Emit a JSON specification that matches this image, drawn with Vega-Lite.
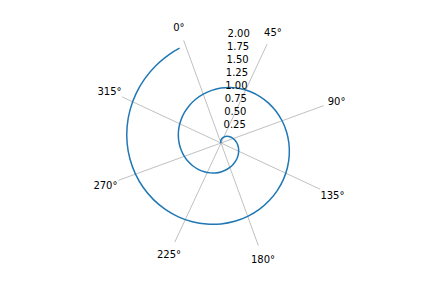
{
  "$schema": "https://vega.github.io/schema/vega-lite/v6.json",
  "width": 432,
  "height": 288,
  "padding": 0,
  "autosize": {"type": "none"},
  "background": "white",
  "config": {"view": {"stroke": null}, "text": {"font": "DejaVu Sans", "fontSize": 10, "color": "#000000"}},
  "datasets": {
    "spiral": [
      {"theta": 0, "r": 0}, {"theta": 10, "r": 0.0278}, {"theta": 20, "r": 0.0556}, {"theta": 30, "r": 0.0833},
      {"theta": 40, "r": 0.1111}, {"theta": 50, "r": 0.1389}, {"theta": 60, "r": 0.1667}, {"theta": 70, "r": 0.1944},
      {"theta": 80, "r": 0.2222}, {"theta": 90, "r": 0.25}, {"theta": 100, "r": 0.2778}, {"theta": 110, "r": 0.3056},
      {"theta": 120, "r": 0.3333}, {"theta": 130, "r": 0.3611}, {"theta": 140, "r": 0.3889}, {"theta": 150, "r": 0.4167},
      {"theta": 160, "r": 0.4444}, {"theta": 170, "r": 0.4722}, {"theta": 180, "r": 0.5}, {"theta": 190, "r": 0.5278},
      {"theta": 200, "r": 0.5556}, {"theta": 210, "r": 0.5833}, {"theta": 220, "r": 0.6111}, {"theta": 230, "r": 0.6389},
      {"theta": 240, "r": 0.6667}, {"theta": 250, "r": 0.6944}, {"theta": 260, "r": 0.7222}, {"theta": 270, "r": 0.75},
      {"theta": 280, "r": 0.7778}, {"theta": 290, "r": 0.8056}, {"theta": 300, "r": 0.8333}, {"theta": 310, "r": 0.8611},
      {"theta": 320, "r": 0.8889}, {"theta": 330, "r": 0.9167}, {"theta": 340, "r": 0.9444}, {"theta": 350, "r": 0.9722},
      {"theta": 360, "r": 1.0}, {"theta": 370, "r": 1.0278}, {"theta": 380, "r": 1.0556}, {"theta": 390, "r": 1.0833},
      {"theta": 400, "r": 1.1111}, {"theta": 410, "r": 1.1389}, {"theta": 420, "r": 1.1667}, {"theta": 430, "r": 1.1944},
      {"theta": 440, "r": 1.2222}, {"theta": 450, "r": 1.25}, {"theta": 460, "r": 1.2778}, {"theta": 470, "r": 1.3056},
      {"theta": 480, "r": 1.3333}, {"theta": 490, "r": 1.3611}, {"theta": 500, "r": 1.3889}, {"theta": 510, "r": 1.4167},
      {"theta": 520, "r": 1.4444}, {"theta": 530, "r": 1.4722}, {"theta": 540, "r": 1.5}, {"theta": 550, "r": 1.5278},
      {"theta": 560, "r": 1.5556}, {"theta": 570, "r": 1.5833}, {"theta": 580, "r": 1.6111}, {"theta": 590, "r": 1.6389},
      {"theta": 600, "r": 1.6667}, {"theta": 610, "r": 1.6944}, {"theta": 620, "r": 1.7222}, {"theta": 630, "r": 1.75},
      {"theta": 640, "r": 1.7778}, {"theta": 650, "r": 1.8056}, {"theta": 660, "r": 1.8333}, {"theta": 670, "r": 1.8611},
      {"theta": 680, "r": 1.8889}, {"theta": 690, "r": 1.9167}, {"theta": 700, "r": 1.9444}, {"theta": 710, "r": 1.9722},
      {"theta": 716.4, "r": 1.99}
    ],
    "angles": [
      {"theta": 0, "label": "0°"}, {"theta": 45, "label": "45°"}, {"theta": 90, "label": "90°"},
      {"theta": 135, "label": "135°"}, {"theta": 180, "label": "180°"}, {"theta": 225, "label": "225°"},
      {"theta": 270, "label": "270°"}, {"theta": 315, "label": "315°"}
    ],
    "rticks": [
      {"r": 0.25, "label": "0.25"}, {"r": 0.5, "label": "0.50"}, {"r": 0.75, "label": "0.75"}, {"r": 1.0, "label": "1.00"},
      {"r": 1.25, "label": "1.25"}, {"r": 1.5, "label": "1.50"}, {"r": 1.75, "label": "1.75"}, {"r": 2.0, "label": "2.00"}
    ]
  },
  "layer": [
    {
      "data": {"name": "angles"},
      "transform": [
        {"calculate": "(datum.theta - 20) * PI / 180", "as": "phi"},
        {"calculate": "0", "as": "x0"},
        {"calculate": "0", "as": "y0"},
        {"calculate": "2.1 * sin(datum.phi)", "as": "x1"},
        {"calculate": "2.1 * cos(datum.phi)", "as": "y1"}
      ],
      "mark": {"type": "rule", "color": "#b0b0b0", "strokeWidth": 0.8},
      "encoding": {
        "x": {"field": "x0", "type": "quantitative", "scale": {"domain": [-4.25, 4.058], "nice": false, "zero": false}, "axis": null},
        "y": {"field": "y0", "type": "quantitative", "scale": {"domain": [-2.788, 2.75], "nice": false, "zero": false}, "axis": null},
        "x2": {"field": "x1"},
        "y2": {"field": "y1"}
      }
    },
    {
      "data": {"name": "spiral"},
      "transform": [
        {"calculate": "(datum.theta - 20) * PI / 180", "as": "phi"},
        {"calculate": "datum.r * sin(datum.phi)", "as": "x"},
        {"calculate": "datum.r * cos(datum.phi)", "as": "y"}
      ],
      "mark": {"type": "line", "color": "#1f77b4", "strokeWidth": 1.5, "interpolate": "cardinal"},
      "encoding": {
        "x": {"field": "x", "type": "quantitative", "scale": {"domain": [-4.25, 4.058], "nice": false, "zero": false}, "axis": null},
        "y": {"field": "y", "type": "quantitative", "scale": {"domain": [-2.788, 2.75], "nice": false, "zero": false}, "axis": null},
        "order": {"field": "theta", "type": "quantitative"}
      }
    },
    {
      "data": {"name": "angles"},
      "transform": [
        {"calculate": "(datum.theta - 20) * PI / 180", "as": "phi"},
        {"calculate": "2.365 * sin(datum.phi)", "as": "x"},
        {"calculate": "2.365 * cos(datum.phi)", "as": "y"}
      ],
      "mark": {"type": "text", "align": "center", "baseline": "middle", "dy": 1},
      "encoding": {
        "x": {"field": "x", "type": "quantitative", "scale": {"domain": [-4.25, 4.058], "nice": false, "zero": false}, "axis": null},
        "y": {"field": "y", "type": "quantitative", "scale": {"domain": [-2.788, 2.75], "nice": false, "zero": false}, "axis": null},
        "text": {"field": "label"}
      }
    },
    {
      "data": {"name": "rticks"},
      "transform": [
        {"calculate": "2.5 * PI / 180", "as": "phi"},
        {"calculate": "datum.r * sin(datum.phi)", "as": "x"},
        {"calculate": "datum.r * cos(datum.phi)", "as": "y"}
      ],
      "mark": {"type": "text", "align": "left", "baseline": "middle", "dx": 2, "dy": -5},
      "encoding": {
        "x": {"field": "x", "type": "quantitative", "scale": {"domain": [-4.25, 4.058], "nice": false, "zero": false}, "axis": null},
        "y": {"field": "y", "type": "quantitative", "scale": {"domain": [-2.788, 2.75], "nice": false, "zero": false}, "axis": null},
        "text": {"field": "label"}
      }
    }
  ]
}
